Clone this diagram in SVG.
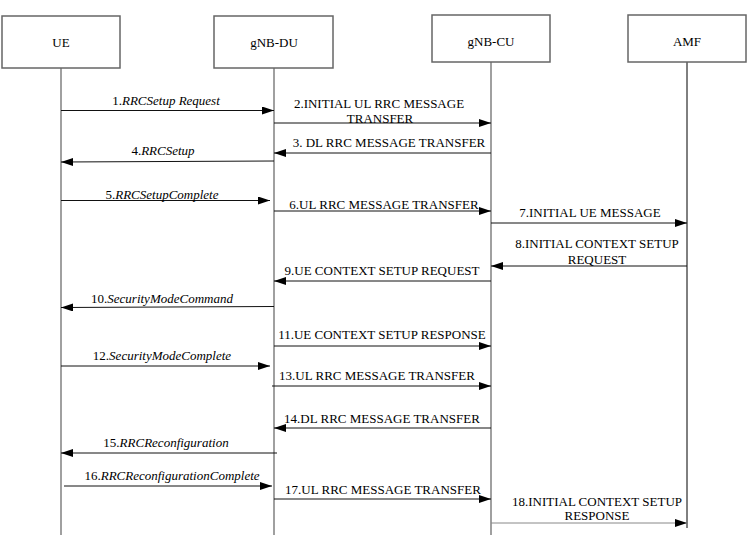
<svg xmlns="http://www.w3.org/2000/svg" width="748" height="544" viewBox="0 0 748 544">
<defs>
<marker id="ah" markerUnits="userSpaceOnUse" markerWidth="13" markerHeight="9" refX="12" refY="4" orient="auto">
<path d="M0,0 L12,4 L0,8 z" fill="#000"/>
</marker>
<style>
.box{fill:#fff;stroke:#666;stroke-width:1.5}
.life{stroke:#808080;stroke-width:1.5;fill:none}
.msg{stroke:#111;stroke-width:1;fill:none;marker-end:url(#ah)}
.t{font-family:'Liberation Serif','DejaVu Serif',serif;font-size:13px;fill:#000;text-anchor:middle}
.it{font-style:italic}
</style>
</defs>
<rect width="748" height="544" fill="#fff"/>
<g id="lifelines">
<line class="life" x1="61" y1="68" x2="61" y2="535"/>
<line class="life" x1="274" y1="68" x2="274" y2="535"/>
<line class="life" x1="491" y1="62" x2="491" y2="535"/>
<line class="life" x1="687" y1="62" x2="687" y2="528" style="stroke:#000;stroke-width:1"/>
</g>
<g id="UE" class="t"><rect class="box" x="2" y="16" width="118" height="52"/><text x="61" y="47">UE</text></g>
<g id="gNB-DU" class="t"><rect class="box" x="214" y="16" width="119" height="52"/><text x="274" y="47">gNB-DU</text></g>
<g id="gNB-CU" class="t"><rect class="box" x="432" y="15" width="118" height="47"/><text x="491" y="46">gNB-CU</text></g>
<g id="AMF" class="t"><rect class="box" x="628" y="15" width="118" height="47"/><text x="687" y="46">AMF</text></g>
<g id="connectors">
<line class="msg" x1="61" y1="110.5" x2="274" y2="110.5"/>
<line class="msg" x1="274" y1="123" x2="491" y2="123"/>
<line class="msg" x1="491" y1="153" x2="274" y2="153"/>
<line class="msg" x1="274" y1="161" x2="61" y2="162"/>
<line class="msg" x1="61" y1="200.5" x2="270" y2="200.5"/>
<line class="msg" x1="274" y1="211" x2="491" y2="211"/>
<line class="msg" x1="491" y1="223" x2="687" y2="223"/>
<line class="msg" x1="687" y1="266" x2="491" y2="266"/>
<line class="msg" x1="491" y1="281" x2="274" y2="281"/>
<line class="msg" x1="274" y1="306.5" x2="61" y2="307.5"/>
<line class="msg" x1="274" y1="346" x2="491" y2="346"/>
<line class="msg" x1="61" y1="366" x2="270" y2="366"/>
<line class="msg" x1="272" y1="386" x2="491" y2="386"/>
<line class="msg" x1="491" y1="428" x2="274" y2="428"/>
<line class="msg" x1="277" y1="453" x2="61" y2="453"/>
<line class="msg" x1="64" y1="486" x2="272" y2="486"/>
<line class="msg" x1="274" y1="499" x2="491" y2="499"/>
<line class="msg" x1="491" y1="523" x2="687" y2="523" style="stroke:#888"/>
</g>
<g id="labels" class="t">
<text x="166" y="105">1.<tspan class="it">RRCSetup Request</tspan></text>
<text x="379" y="108">2.INITIAL UL RRC MESSAGE</text>
<text x="380" y="123">TRANSFER</text>
<text x="389" y="147">3. DL RRC MESSAGE TRANSFER</text>
<text x="163" y="155">4.<tspan class="it">RRCSetup</tspan></text>
<text x="162" y="199">5.<tspan class="it">RRCSetupComplete</tspan></text>
<text x="384" y="209">6.UL RRC MESSAGE TRANSFER</text>
<text x="590" y="217">7.INITIAL UE MESSAGE</text>
<text x="597" y="248">8.INITIAL CONTEXT SETUP</text>
<text x="597" y="264">REQUEST</text>
<text x="382" y="275">9.UE CONTEXT SETUP REQUEST</text>
<text x="162" y="303">10.<tspan class="it">SecurityModeCommand</tspan></text>
<text x="382" y="339">11.UE CONTEXT SETUP RESPONSE</text>
<text x="162" y="360">12.<tspan class="it">SecurityModeComplete</tspan></text>
<text x="377" y="380">13.UL RRC MESSAGE TRANSFER</text>
<text x="382" y="423">14.DL RRC MESSAGE TRANSFER</text>
<text x="166" y="447">15.<tspan class="it">RRCReconfiguration</tspan></text>
<text x="172" y="480">16.<tspan class="it">RRCReconfigurationComplete</tspan></text>
<text x="383" y="494">17.UL RRC MESSAGE TRANSFER</text>
<text x="597" y="505.5">18.INITIAL CONTEXT SETUP</text>
<text x="597" y="520">RESPONSE</text>
</g>
</svg>
